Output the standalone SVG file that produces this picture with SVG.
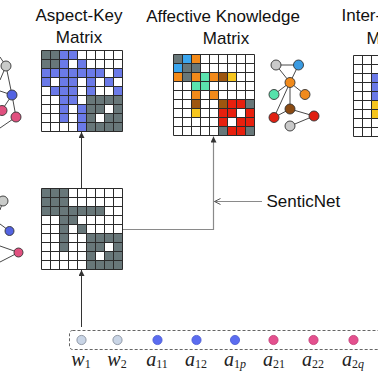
<svg xmlns="http://www.w3.org/2000/svg" xmlns:xlink="http://www.w3.org/1999/xlink" width="378" height="378" viewBox="0 0 378 378">
<style>
.t{font-family:"Liberation Sans",Arial,sans-serif;font-size:17px;fill:#111}
.lab{font-family:"Liberation Serif","Times New Roman",serif;font-size:20px;font-style:italic;fill:#222}
.sub{font-size:12px;font-style:normal}
.subi{font-size:12px;font-style:italic}
.grid{fill:none;stroke:#2b2b2b;stroke-width:1}
.g{fill:#687779}.b{fill:#6b7ae8}.lb{fill:#3ba6ee}.o{fill:#f28a1a}.m{fill:#5ae3ae}.br{fill:#9e560f}.y{fill:#f7c61e}.r{fill:#e8200e}
.edge{stroke:#333;stroke-width:0.9;fill:none}
.nd{stroke:#333;stroke-width:0.9}
.conn{fill:none;stroke:#333;stroke-width:1}
.connG{fill:none;stroke:#8a8a8a;stroke-width:1.2}
</style>
<defs>
<path id="grid" class="grid" d="M0 0H81M0 9H81M0 18H81M0 27H81M0 36H81M0 45H81M0 54H81M0 63H81M0 72H81M0 81H81M0 0V81M9 0V81M18 0V81M27 0V81M36 0V81M45 0V81M54 0V81M63 0V81M72 0V81M81 0V81"/>
<marker id="ah" markerWidth="7" markerHeight="7" refX="6" refY="3" orient="auto" markerUnits="userSpaceOnUse"><path d="M0,0 L6,3 L0,6 z" fill="#333"/></marker>
<marker id="ahG" markerWidth="7" markerHeight="7" refX="6" refY="3" orient="auto" markerUnits="userSpaceOnUse"><path d="M0,0 L6,3 L0,6" fill="none" stroke="#555" stroke-width="1"/></marker>
</defs>

<!-- Titles -->
<g id="titles">
<text class="t" x="79" y="21" text-anchor="middle">Aspect-Key</text>
<text class="t" x="79" y="43" text-anchor="middle">Matrix</text>
<text class="t" x="223" y="22" text-anchor="middle">Affective Knowledge</text>
<text class="t" x="226" y="44" text-anchor="middle">Matrix</text>
<text class="t" x="341.5" y="21">Inter-</text>
<text class="t" x="366.5" y="44">M</text>
</g>

<!-- Connectors -->
<g id="connectors">
<line class="conn" x1="81.5" y1="188" x2="81.5" y2="132" marker-end="url(#ah)"/>
<line class="conn" x1="81.5" y1="327" x2="81.5" y2="270" marker-end="url(#ah)"/>
<path class="connG" d="M122 229.5H213.5V136.5" marker-end="url(#ah)"/>
<line class="connG" x1="262" y1="201.5" x2="214.5" y2="201.5" marker-end="url(#ahG)"/>
</g>

<!-- Aspect-Key Matrix -->
<g id="aspect-key-matrix" transform="translate(41.5,50.5)">
<rect fill="#fff" width="81" height="81"/>
<rect class="g" x="0" y="0" width="9" height="9"/><rect class="g" x="9" y="0" width="9" height="9"/><rect class="b" x="18" y="0" width="9" height="9"/><rect class="b" x="27" y="0" width="9" height="9"/>
<rect class="g" x="0" y="9" width="9" height="9"/><rect class="g" x="9" y="9" width="9" height="9"/><rect class="b" x="18" y="9" width="9" height="9"/><rect class="b" x="36" y="9" width="9" height="9"/>
<rect class="b" x="0" y="18" width="63" height="9"/><rect class="b" x="72" y="18" width="9" height="9"/>
<rect class="b" x="0" y="27" width="9" height="9"/><rect class="b" x="18" y="27" width="18" height="9"/><rect class="b" x="45" y="27" width="9" height="9"/><rect class="b" x="63" y="27" width="9" height="9"/>
<rect class="b" x="9" y="36" width="27" height="9"/><rect class="b" x="45" y="36" width="9" height="9"/><rect class="b" x="72" y="36" width="9" height="9"/>
<rect class="b" x="18" y="45" width="18" height="9"/><rect class="g" x="45" y="45" width="36" height="9"/>
<rect class="b" x="18" y="54" width="9" height="9"/><rect class="b" x="36" y="54" width="9" height="9"/><rect class="g" x="45" y="54" width="18" height="9"/><rect class="g" x="72" y="54" width="9" height="9"/>
<rect class="b" x="18" y="63" width="9" height="9"/><rect class="b" x="36" y="63" width="9" height="9"/><rect class="g" x="45" y="63" width="9" height="9"/><rect class="g" x="63" y="63" width="18" height="9"/>
<rect class="b" x="36" y="72" width="9" height="9"/><rect class="g" x="45" y="72" width="36" height="9"/>
<use xlink:href="#grid"/>
</g>

<!-- Base matrix -->
<g id="base-matrix" transform="translate(41.5,188.5)">
<rect fill="#fff" width="81" height="81"/>
<rect class="g" x="0" y="0" width="27" height="18"/>
<rect class="g" x="0" y="18" width="63" height="9"/>
<rect class="g" x="18" y="27" width="18" height="9"/>
<rect class="g" x="18" y="36" width="9" height="9"/><rect class="g" x="36" y="36" width="9" height="9"/>
<rect class="g" x="18" y="45" width="9" height="9"/><rect class="g" x="45" y="45" width="36" height="9"/>
<rect class="g" x="18" y="54" width="9" height="9"/><rect class="g" x="45" y="54" width="18" height="9"/><rect class="g" x="72" y="54" width="9" height="9"/>
<rect class="g" x="45" y="63" width="9" height="9"/><rect class="g" x="63" y="63" width="18" height="9"/>
<rect class="g" x="45" y="72" width="36" height="9"/>
<use xlink:href="#grid"/>
</g>

<!-- Affective Knowledge Matrix -->
<g id="affective-matrix" transform="translate(173.5,54.5)">
<rect fill="#fff" width="81" height="81"/>
<rect class="g" x="0" y="0" width="9" height="9"/><rect class="lb" x="9" y="0" width="9" height="9"/><rect class="o" x="18" y="0" width="9" height="9"/>
<rect class="lb" x="0" y="9" width="9" height="9"/><rect class="g" x="9" y="9" width="18" height="9"/>
<rect class="o" x="0" y="18" width="9" height="9"/><rect class="g" x="9" y="18" width="9" height="9"/><rect class="o" x="18" y="18" width="9" height="9"/><rect class="m" x="27" y="18" width="9" height="9"/><rect class="o" x="36" y="18" width="9" height="9"/><rect class="br" x="45" y="18" width="9" height="9"/><rect class="y" x="54" y="18" width="9" height="9"/>
<rect class="m" x="18" y="27" width="18" height="9"/>
<rect class="o" x="18" y="36" width="9" height="9"/><rect class="o" x="36" y="36" width="9" height="9"/>
<rect class="br" x="18" y="45" width="9" height="9"/><rect class="br" x="45" y="45" width="9" height="9"/><rect class="r" x="54" y="45" width="18" height="9"/><rect class="g" x="72" y="45" width="9" height="9"/>
<rect class="y" x="18" y="54" width="9" height="9"/><rect class="r" x="45" y="54" width="18" height="9"/><rect class="r" x="72" y="54" width="9" height="9"/>
<rect class="r" x="45" y="63" width="9" height="9"/><rect class="r" x="63" y="63" width="18" height="9"/>
<rect class="g" x="45" y="72" width="9" height="9"/><rect class="r" x="54" y="72" width="18" height="9"/><rect class="g" x="72" y="72" width="9" height="9"/>
<use xlink:href="#grid"/>
</g>

<!-- Inter matrix (clipped) -->
<g id="inter-matrix" transform="translate(353.5,55.5)">
<rect fill="#fff" width="81" height="81"/>
<rect class="b" x="18" y="18" width="9" height="27"/>
<rect class="y" x="18" y="45" width="9" height="18"/>
<use xlink:href="#grid"/>
</g>

<!-- Affective knowledge graph -->
<g id="knowledge-graph">
<path class="edge" d="M276 65H298.5M276 65L290 82.5M298.5 65L290 82.5M290 82.5L274 94.5M290 82.5L305 94.5M290 82.5V109M290 82.5L274 117.5M290 109L274 117.5M290 109L314 116M290 126L314 116"/>
<circle class="nd" cx="276" cy="65" r="5" fill="#c9c9c9"/>
<circle class="nd" cx="298.5" cy="65" r="5" fill="#3a9be2"/>
<circle class="nd" cx="290" cy="82.5" r="5" fill="#f08a1c"/>
<circle class="nd" cx="274" cy="94.5" r="5" fill="#55e2ab"/>
<circle class="nd" cx="305" cy="94.5" r="5" fill="#f08a1c"/>
<circle class="nd" cx="290" cy="109" r="5" fill="#8b4a12"/>
<circle class="nd" cx="274" cy="117.5" r="5" fill="#e02012"/>
<circle class="nd" cx="314" cy="116" r="5" fill="#e02012"/>
<circle class="nd" cx="290" cy="126" r="5" fill="#c9c9c9"/>
</g>

<!-- Left graph top (clipped) -->
<g id="left-graph-top">
<path class="edge" d="M0 57L6 66M6 66L0 80M6 66L12 95M0 91L12 95M12 95L2 110M12 95L16 117M16 117L0 128"/>
<circle class="nd" cx="6" cy="66" r="5" fill="#c9cbc9"/>
<circle class="nd" cx="12" cy="95" r="5" fill="#5363e2"/>
<circle class="nd" cx="2" cy="110.5" r="5" fill="#e0507f"/>
<circle class="nd" cx="16" cy="117" r="5" fill="#e0507f"/>
</g>

<!-- Left graph bottom (clipped) -->
<g id="left-graph-bottom">
<path class="edge" d="M3 201L0 210M0 224L9.5 231M0 246L18.5 252.5M18.5 252.5L0 262"/>
<circle class="nd" cx="3" cy="201" r="5" fill="#c9cbc9"/>
<circle class="nd" cx="9.5" cy="231" r="4.5" fill="#5363e2"/>
<circle class="nd" cx="18.5" cy="252.5" r="4.5" fill="#e0507f"/>
</g>

<!-- SenticNet -->
<g id="senticnet">
<text class="t" x="266.5" y="207">SenticNet</text>
</g>

<!-- Token sequence -->
<g id="tokens">
<rect x="69.5" y="330.5" width="340" height="19" rx="3" fill="none" stroke="#555" stroke-width="0.9" stroke-dasharray="3,2"/>
<circle cx="81.5" cy="340" r="4.6" fill="#c9d5e6" stroke="#7d8794" stroke-width="0.8"/>
<circle cx="117.5" cy="340" r="4.6" fill="#c9d5e6" stroke="#7d8794" stroke-width="0.8"/>
<circle cx="157.5" cy="340" r="4.6" fill="#5b6cf0" stroke="#4a5ad0" stroke-width="0.8"/>
<circle cx="196.5" cy="340" r="4.6" fill="#5b6cf0" stroke="#4a5ad0" stroke-width="0.8"/>
<circle cx="235" cy="340" r="4.6" fill="#5b6cf0" stroke="#4a5ad0" stroke-width="0.8"/>
<circle cx="273.5" cy="340" r="4.6" fill="#e4508e" stroke="#c03a74" stroke-width="0.8"/>
<circle cx="313.5" cy="340" r="4.6" fill="#e4508e" stroke="#c03a74" stroke-width="0.8"/>
<circle cx="353.5" cy="340" r="4.6" fill="#e4508e" stroke="#c03a74" stroke-width="0.8"/>
<text class="lab" x="81" y="366" text-anchor="middle">w<tspan class="sub" dy="1.5">1</tspan></text>
<text class="lab" x="117" y="366" text-anchor="middle">w<tspan class="sub" dy="1.5">2</tspan></text>
<text class="lab" x="157" y="366" text-anchor="middle">a<tspan class="sub" dy="1.5">11</tspan></text>
<text class="lab" x="196" y="366" text-anchor="middle">a<tspan class="sub" dy="1.5">12</tspan></text>
<text class="lab" x="235" y="366" text-anchor="middle">a<tspan class="sub" dy="1.5">1</tspan><tspan class="subi">p</tspan></text>
<text class="lab" x="274" y="366" text-anchor="middle">a<tspan class="sub" dy="1.5">21</tspan></text>
<text class="lab" x="313" y="366" text-anchor="middle">a<tspan class="sub" dy="1.5">22</tspan></text>
<text class="lab" x="353" y="366" text-anchor="middle">a<tspan class="sub" dy="1.5">2</tspan><tspan class="subi">q</tspan></text>
</g>
</svg>
